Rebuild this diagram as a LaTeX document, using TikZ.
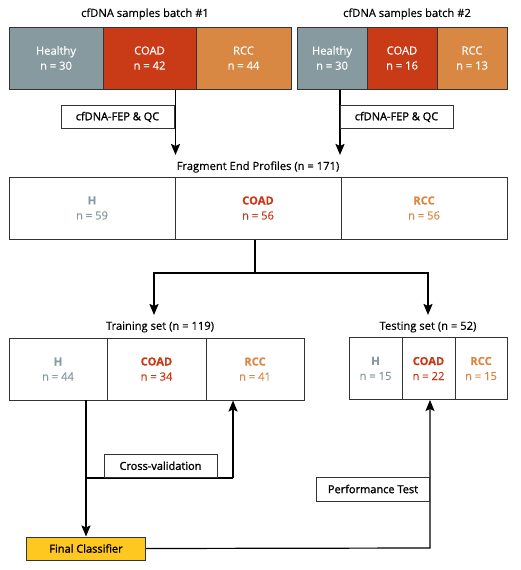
\documentclass[tikz,border=0pt]{standalone}
\usepackage{fontspec}
\setmainfont{Open Sans}[FakeBold=0.3]
\newfontfamily\semib{Open Sans}[FakeBold=1.5]
\usetikzlibrary{arrows.meta}
\definecolor{cgray}{HTML}{879A9F}
\definecolor{cred}{HTML}{C93A17}
\definecolor{corange}{HTML}{D98843}
\definecolor{cyellow}{HTML}{FFC820}
\definecolor{bline}{HTML}{333333}
\begin{document}
\begin{tikzpicture}[x=1pt,y=-1pt,
  every node/.style={font=\fontsize{11.2}{15}\selectfont, inner sep=0pt, align=center},
  cell/.style={draw=bline, line width=1pt, minimum height=62},
  topcell/.style={cell, text=white},
  lab/.style={draw=bline, line width=1pt, fill=white, minimum height=23.5, minimum width=113, font=\fontsize{11}{15}\selectfont\semib},
  title/.style={},
  arr/.style={line width=1.8pt, -{Stealth[length=11pt,width=9pt,inset=2pt]}},
  thinarr/.style={line width=1.2pt, -{Stealth[length=11pt,width=9pt,inset=2pt]}},
  ln/.style={line width=1.8pt}
]
\useasboundingbox (0,0) rectangle (521,570);

% batch 1
\node[title] (t1) at (145,14) {cfDNA samples batch \#1};
\node[topcell, fill=cgray, minimum width=94] (b1h) at (56,58) {Healthy\\n = 30};
\node[topcell, fill=cred, minimum width=93] (b1c) at (149.5,58) {COAD\\n = 42};
\node[topcell, fill=corange, minimum width=95] (b1r) at (243.5,58) {RCC\\n = 44};
% batch 2
\node[title] (t2) at (407,14) {cfDNA samples batch \#2};
\node[topcell, fill=cgray, minimum width=70] (b2h) at (332,58) {Healthy\\n = 30};
\node[topcell, fill=cred, minimum width=70] (b2c) at (402,58) {COAD\\n = 16};
\node[topcell, fill=corange, minimum width=70] (b2r) at (472,58) {RCC\\n = 13};

% FEP
\node[title] (ft) at (258,167) {Fragment End Profiles (n = 171)};
\node[cell, minimum width=166, text=cgray] (fh) at (92,208) {\textbf{H}\\n = 59};
\node[cell, minimum width=166, text=cred] (fc) at (258,208) {\textbf{COAD}\\n = 56};
\node[cell, minimum width=166, text=corange] (fr) at (424,208) {\textbf{RCC}\\n = 56};

% arrows from batches
\draw[arr] (b1c.south -| fh.east) -- (fh.east |- 0,155) coordinate (a1);
\draw[arr] (b2h.south) ++(8,0) coordinate (s2) -- (s2 |- 0,155);
\node[lab] (l1) at (117.5,117) {cfDNA-FEP \& QC};
\node[lab] (l2) at (396.5,117) {cfDNA-FEP \& QC};

% split
\coordinate (sp) at (255,273);
\draw[ln] (fc.south -| sp) -- (sp);
\draw[arr] (sp) -| (154,315);
\draw[arr] (sp) -| (428,315);

% training
\node[title] (trt) at (160,327) {Training set (n = 119)};
\node[cell, minimum width=98, text=cgray] (th) at (58,369) {\textbf{H}\\n = 44};
\node[cell, minimum width=99, text=cred] (tc) at (156.5,369) {\textbf{COAD}\\n = 34};
\node[cell, minimum width=98, text=corange] (tr) at (255,369) {\textbf{RCC}\\n = 41};

% testing
\node[title] (tet) at (428,327) {Testing set (n = 52)};
\node[cell, minimum width=53, text=cgray] (eh) at (375.5,368.5) {\textbf{H}\\n = 15};
\node[cell, minimum width=53, text=cred] (ec) at (428.5,368.5) {\textbf{COAD}\\n = 22};
\node[cell, minimum width=52, text=corange] (er) at (481,368.5) {\textbf{RCC}\\n = 15};

% final classifier
\node[draw=bline, line width=1pt, fill=cyellow, minimum width=119, minimum height=23, font=\fontsize{11}{15}\selectfont\semib] (fin) at (86,548.5) {Final Classifier};

\coordinate (ts) at (86,400);
\draw[arr] (ts) -- (fin.north);
% cross validation loop
\coordinate (cv1) at (86,478);
\coordinate (cv2) at (233,478);
\draw[ln] (cv1) -- (cv2);
\draw[arr] (cv2) -- (cv2 |- tr.south);
\node[lab, anchor=south] (cv) at (160.5,478) {Cross-validation};

% performance test
\coordinate (pt) at (430,548);
\draw[thinarr] (fin.east) -- (pt) -- (pt |- ec.south);
\node[lab, minimum height=24, anchor=east] (pf) at (430,489) {Performance Test};
\end{tikzpicture}
\end{document}
